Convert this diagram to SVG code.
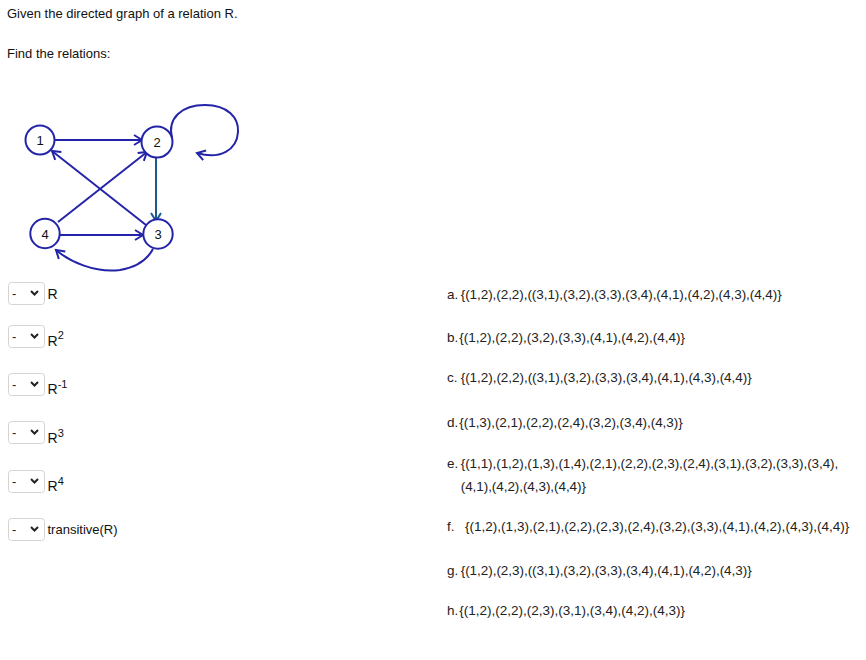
<svg xmlns="http://www.w3.org/2000/svg" width="866" height="660" viewBox="0 0 866 660">
<style>
.t{font-family:"Liberation Sans",Arial,sans-serif;fill:#111}
.h{font-size:13px}
.lab{font-size:14px}
.sup{font-size:11px}
.ans{font-size:13.5px;fill:#222}
.node circle{fill:#fff;stroke:#2424a8;stroke-width:2}
.node text{font-family:"Liberation Sans",Arial,sans-serif;font-size:13px;fill:#111;text-anchor:middle}
.edge{fill:none;stroke:#2424a8;stroke-width:2;marker-end:url(#arr)}
.sel rect{fill:#fff;stroke:#d4d4d4;stroke-width:1}
.sel polyline{fill:none;stroke:#222;stroke-width:2}
.sel text{font-family:"Liberation Sans",Arial,sans-serif;font-size:13px;fill:#222}
</style>
<defs>
<marker id="arr" markerUnits="userSpaceOnUse" markerWidth="14" markerHeight="14" viewBox="-10 -7 12 14" refX="0" refY="0" orient="auto">
<path d="M-8,-5 L0,0 L-8,5" fill="none" stroke="#2424a8" stroke-width="2"/>
</marker>
<marker id="arr2" markerUnits="userSpaceOnUse" markerWidth="14" markerHeight="14" viewBox="-10 -7 12 14" refX="0" refY="0" orient="auto">
<path d="M-8,-5 L0,0 L-8,5" fill="none" stroke="#1d5a8c" stroke-width="2"/>
</marker>
</defs>
<rect width="866" height="660" fill="#fff"/>
<text class="t h" x="7" y="18">Given the directed graph of a relation R.</text>
<text class="t h" x="7" y="58">Find the relations:</text>

<g id="connectors">
<line class="edge" x1="55" y1="140" x2="142" y2="140"/>
<line class="edge" x1="146" y1="225" x2="52" y2="151"/>
<line class="edge" x1="58" y1="222" x2="147" y2="152"/>
<line x1="156" y1="158" x2="156" y2="221" fill="none" stroke="#1d5a8c" stroke-width="2" marker-end="url(#arr2)"/>
<line class="edge" x1="60" y1="235" x2="143" y2="235"/>
<path class="edge" d="M153,249 C146,262 132,268 120,270 C95,273 70,262 56,250"/>
<path class="edge" d="M172,138 C167,118 182,105 205,105 C228,105 239,118 238,132 C237,150 220,160 197,153"/>
</g>
<g id="n1" class="node"><circle cx="40" cy="140" r="14.5"/><text x="40" y="145">1</text></g>
<g id="n2" class="node"><circle cx="157" cy="142" r="15.5"/><text x="157" y="147">2</text></g>
<g id="n3" class="node"><circle cx="158" cy="234" r="14.7"/><text x="158" y="239">3</text></g>
<g id="n4" class="node"><circle cx="45" cy="233.5" r="14.7"/><text x="45" y="238.5">4</text></g>

<g id="sel1" class="sel"><rect x="8.5" y="282.5" width="36" height="22" rx="3"/><text x="12" y="298">-</text><polyline points="31,291 34.5,294.5 38,291"/></g>
<g id="sel2" class="sel"><rect x="8.5" y="325.5" width="36" height="22" rx="3"/><text x="12" y="341">-</text><polyline points="31,334 34.5,337.5 38,334"/></g>
<g id="sel3" class="sel"><rect x="8.5" y="373.5" width="36" height="22" rx="3"/><text x="12" y="389">-</text><polyline points="31,382 34.5,385.5 38,382"/></g>
<g id="sel4" class="sel"><rect x="8.5" y="421.5" width="36" height="22" rx="3"/><text x="12" y="437">-</text><polyline points="31,430 34.5,433.5 38,430"/></g>
<g id="sel5" class="sel"><rect x="8.5" y="470.5" width="36" height="22" rx="3"/><text x="12" y="486">-</text><polyline points="31,479 34.5,482.5 38,479"/></g>
<g id="sel6" class="sel"><rect x="8.5" y="518.5" width="36" height="22" rx="3"/><text x="12" y="534">-</text><polyline points="31,527 34.5,530.5 38,527"/></g>

<text class="t lab" x="47.5" y="298.5">R</text>
<text class="t lab" x="47.5" y="346">R<tspan class="sup" dy="-7">2</tspan></text>
<text class="t lab" x="47.5" y="394">R<tspan class="sup" dy="-6">-1</tspan></text>
<text class="t lab" x="47.5" y="442.5">R<tspan class="sup" dy="-6">3</tspan></text>
<text class="t lab" x="47.5" y="491">R<tspan class="sup" dy="-6">4</tspan></text>
<text class="t h" x="47.5" y="534">transitive(R)</text>

<g class="t ans">
<text x="447" y="299">a.</text><text x="460.7" y="299" textLength="321">{(1,2),(2,2),((3,1),(3,2),(3,3),(3,4),(4,1),(4,2),(4,3),(4,4)}</text>
<text x="447" y="341.7">b.</text><text x="459.3" y="341.7" textLength="225.7">{(1,2),(2,2),(3,2),(3,3),(4,1),(4,2),(4,4)}</text>
<text x="447" y="381.7">c.</text><text x="460.7" y="381.7" textLength="291">{(1,2),(2,2),((3,1),(3,2),(3,3),(3,4),(4,1),(4,3),(4,4)}</text>
<text x="447" y="426.7">d.</text><text x="459.3" y="426.7" textLength="223.4">{(1,3),(2,1),(2,2),(2,4),(3,2),(3,4),(4,3)}</text>
<text x="447" y="468.3">e.</text><text x="460.7" y="468.3" textLength="377.6">{(1,1),(1,2),(1,3),(1,4),(2,1),(2,2),(2,3),(2,4),(3,1),(3,2),(3,3),(3,4),</text>
<text x="460.7" y="490.7" textLength="125.3">(4,1),(4,2),(4,3),(4,4)}</text>
<text x="447" y="530.7">f.</text><text x="465" y="530.7" textLength="384.3">{(1,2),(1,3),(2,1),(2,2),(2,3),(2,4),(3,2),(3,3),(4,1),(4,2),(4,3),(4,4)}</text>
<text x="447" y="575">g.</text><text x="460.7" y="575" textLength="291">{(1,2),(2,3),((3,1),(3,2),(3,3),(3,4),(4,1),(4,2),(4,3)}</text>
<text x="447" y="615">h.</text><text x="459.3" y="615" textLength="225.7">{(1,2),(2,2),(2,3),(3,1),(3,4),(4,2),(4,3)}</text>
</g>
</svg>
